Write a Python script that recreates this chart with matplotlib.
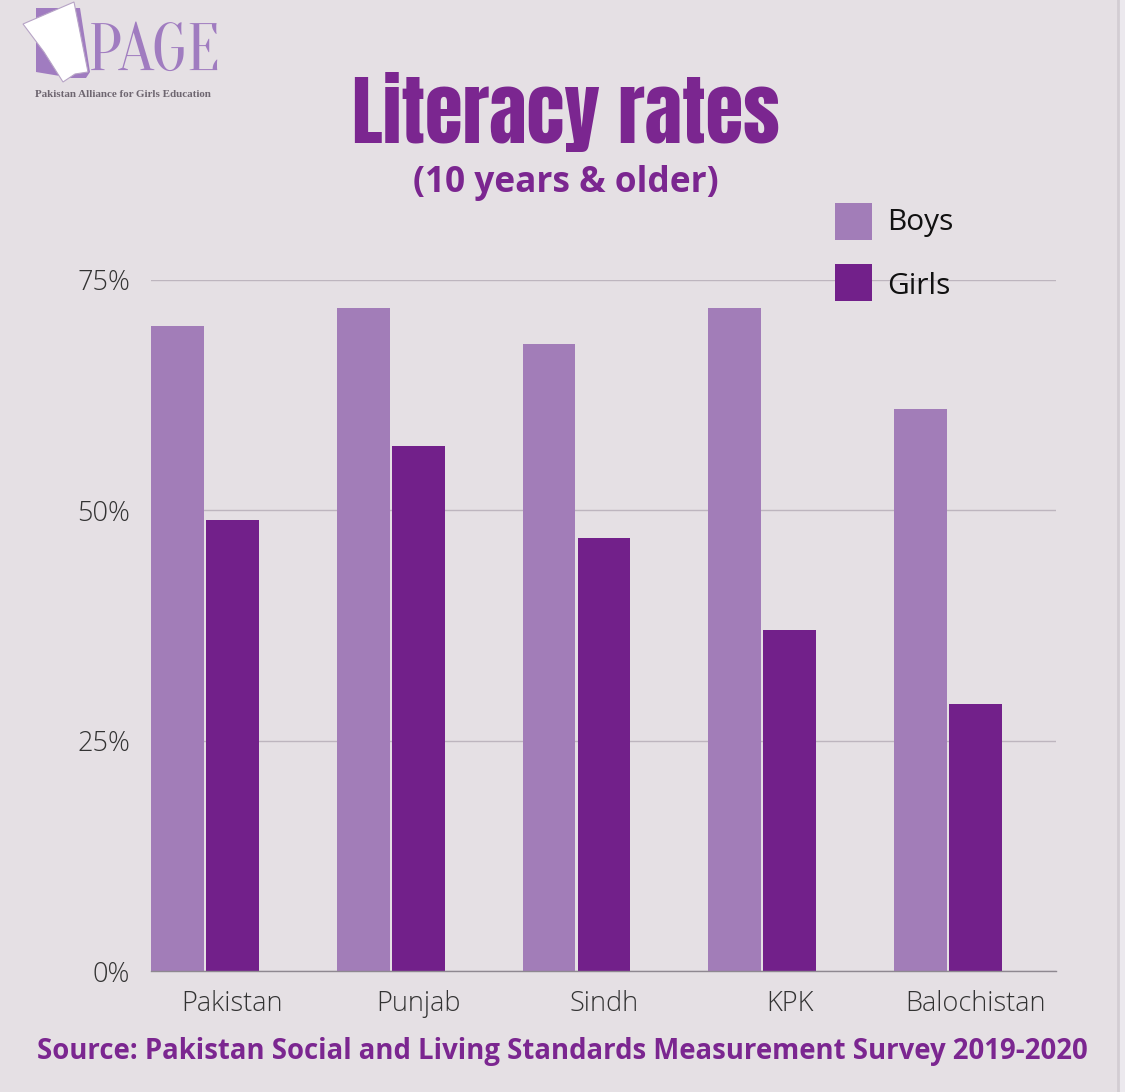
import matplotlib
matplotlib.use("Agg")
import matplotlib.pyplot as plt
from matplotlib.patches import Polygon, Rectangle
from matplotlib.lines import Line2D
import numpy as np

categories = ["Pakistan", "Punjab", "Sindh", "KPK", "Balochistan"]
boys = [70, 72, 68, 72, 61]
girls = [49, 57, 47, 37, 29]
yticks = [0, 25, 50, 75]
ytick_labels = ["0%", "25%", "50%", "75%"]

BG = "#E5E0E4"
BOYS_C = "#A27DB8"
GIRLS_C = "#72208A"
TITLE_C = "#7B2690"
TXT = "#333333"

W, H = 1125, 1092
fig = plt.figure(figsize=(W / 100, H / 100), dpi=100, facecolor=BG)

def fx(px):
    return px / W

def fy(py):
    return 1 - py / H

ax = fig.add_axes([fx(151), fy(971), fx(1056) - fx(151), fy(280) - fy(971)])
ax.set_facecolor(BG)
x = np.arange(len(categories))
off = 0.148
bw = 0.285
ax.bar(x - off, boys, width=bw, color=BOYS_C, zorder=3, label="Boys")
ax.bar(x + off, girls, width=bw, color=GIRLS_C, zorder=3, label="Girls")
ax.set_xlim(-0.2905, 4.581)
ax.set_ylim(0, 75)
ax.set_yticks(yticks)
ax.set_yticklabels(ytick_labels)
ax.set_xticks(x + off)
ax.set_xticklabels(categories)
for s in ["top", "right", "left"]:
    ax.spines[s].set_visible(False)
ax.spines["bottom"].set_color("#8E8890")
ax.spines["bottom"].set_linewidth(1.0)
ax.spines["bottom"].set_zorder(4)
ax.tick_params(axis="both", length=0, labelcolor=TXT)
ax.tick_params(axis="y", pad=15, labelsize=19.5)
ax.tick_params(axis="x", pad=14, labelsize=19.5)
for lab in ax.get_xticklabels() + ax.get_yticklabels():
    lab.set_fontfamily(["Open Sans", "DejaVu Sans"])
    lab.set_fontweight("light")
ax.yaxis.grid(True, color="#BDB5BE", linewidth=1.0, zorder=0)
ax.set_axisbelow(True)

# Legend (manual placement)
for py, ty, col, lab in [(203, 223, BOYS_C, "Boys"), (264, 286, GIRLS_C, "Girls")]:
    fig.patches.append(Rectangle((fx(835), fy(py + 37)), fx(37), fy(0) - fy(37),
                                 transform=fig.transFigure, facecolor=col,
                                 edgecolor="none", zorder=5))
    fig.text(fx(887), fy(ty), lab, fontsize=21.5, color="#111111",
             family=["Open Sans", "DejaVu Sans"], va="center", ha="left", zorder=6)

# Title and subtitle
fig.text(fx(566), fy(143), "Literacy rates", fontsize=55.5,
         color=TITLE_C, family=["Anton", "Oswald", "DejaVu Sans"],
         ha="center", va="baseline")
fig.text(fx(566), fy(183), "(10 years & older)", fontsize=25.4, fontweight="bold",
         color=TITLE_C, family=["Open Sans", "DejaVu Sans"], ha="center", va="center")

# Source
fig.text(fx(562), fy(1052), "Source: Pakistan Social and Living Standards Measurement Survey 2019-2020",
         fontsize=19.8, fontweight="bold", color=TITLE_C,
         family=["Open Sans", "DejaVu Sans"], ha="center", va="center")

# Logo
LOGO_C = "#A07CC0"
fig.patches.append(Polygon([(fx(36), fy(8)), (fx(80), fy(8)), (fx(90), fy(72)),
                            (fx(86), fy(78)), (fx(70), fy(78)), (fx(60), fy(76)),
                            (fx(36), fy(72))],
                           closed=True, transform=fig.transFigure,
                           facecolor=LOGO_C, edgecolor="none", zorder=2))
fig.patches.append(Polygon([(fx(23), fy(24)), (fx(74), fy(2)), (fx(88), fy(72)),
                            (fx(75), fy(74)), (fx(63), fy(82)), (fx(44), fy(52))],
                           closed=True, transform=fig.transFigure,
                           facecolor="white", edgecolor="#B7A4C6", linewidth=0.8, zorder=3))
fig.text(fx(88), fy(70), "PAGE", fontsize=48, color=LOGO_C, fontweight="bold",
         family=["Oranienbaum", "Liberation Serif", "DejaVu Serif"], ha="left", va="baseline")
fig.text(fx(35), fy(97), "Pakistan Alliance for Girls Education", fontsize=7.9,
         fontweight="bold", color="#6E6670",
         family=["Liberation Serif", "DejaVu Serif"], ha="left", va="baseline")

# right border
fig.lines.append(Line2D([fx(1118), fx(1118)], [0, 1], transform=fig.transFigure,
                        color="#D3CDD3", linewidth=2))
fig.patches.append(Rectangle((fx(1119), 0), fx(6), 1, transform=fig.transFigure,
                             facecolor="#ECE9EE", edgecolor="none"))

fig.savefig("out.png", dpi=100, facecolor=BG)
